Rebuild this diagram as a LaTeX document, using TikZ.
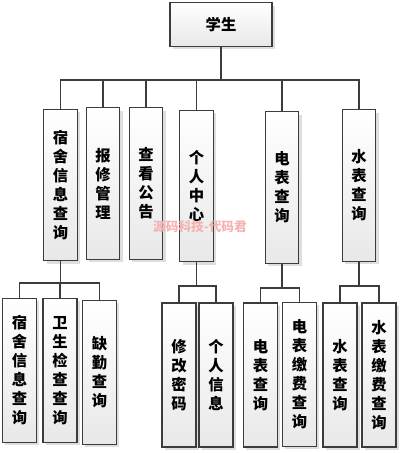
\documentclass[tikz,border=0pt]{standalone}
\usepackage{fontspec}
\usepackage{xcolor}
\usetikzlibrary{shadows,calc}
\newfontfamily\cjk{Noto Sans CJK SC}
\definecolor{linegray}{RGB}{60,60,60}
\definecolor{shadowgray}{RGB}{222,222,222}
\definecolor{markpink}{RGB}{244,178,178}

\tikzset{
	box/.style={draw=linegray, line width=0.9pt, top color=white, bottom color=black!9,
		inner sep=0pt, align=center, font={\cjk\bfseries\fontsize{11.5pt}{14.25pt}\selectfont},
		drop shadow={shadow xshift=2.2pt, shadow yshift=-2.2pt, fill=shadowgray, opacity=1}},
	rootbox/.style={box, minimum width=76.5pt, minimum height=32.5pt},
	midbox/.style={box, minimum width=25pt, minimum height=113.5pt},
	leafbox/.style={box, minimum width=25.5pt, minimum height=108pt},
	link/.style={draw=linegray, line width=0.9pt}
}

\begin{document}
\begin{tikzpicture}[x=0.75pt, y=-0.75pt]
				\useasboundingbox (0,0) rectangle (400,453);
				
				% Top node
				\node[rootbox] (student) at (221,24.5) {学生};
				
				% Second level
				\node[midbox] (dorm) at (60.5,185) {宿\\舍\\信\\息\\查\\询};
				\node[midbox] (repair) at (103,183.5) {报\\修\\管\\理};
				\node[midbox] (notice) at (146,183.5) {查\\看\\公\\告};
				\node[midbox] (center) at (196.5,186) {个\\人\\中\\心};
				\node[midbox] (elec) at (282,187.5) {电\\表\\查\\询};
				\node[midbox] (water) at (359,185.5) {水\\表\\查\\询};
				
				% Third level
				\node[leafbox] (dormq) at (19.5,370.5) {宿\\舍\\信\\息\\查\\询};
				\node[leafbox] (hygiene) at (60,370.5) {卫\\生\\检\\查\\查\\询};
				\node[leafbox] (absence) at (99.5,372.5) {缺\\勤\\查\\询};
				\node[leafbox] (passwd) at (179,375) {修\\改\\密\\码};
				\node[leafbox] (info) at (216,375) {个\\人\\信\\息};
				\node[leafbox] (elecq) at (260.5,375) {电\\表\\查\\询};
				\node[leafbox] (elecpay) at (299.5,374.5) {电\\表\\缴\\费\\查\\询};
				\node[leafbox] (waterq) at (340,375) {水\\表\\查\\询};
				\node[leafbox] (waterpay) at (379,375) {水\\表\\缴\\费\\查\\询};
				
				% Bus lines
				\coordinate (bus) at (0,80);
				\coordinate (busa) at (0,283);
				\coordinate (busd) at (0,286);
				\coordinate (buse) at (0,288);
				\coordinate (busf) at (0,286);
				
				% Connections
				\foreach \n in {dorm,repair,notice,center,elec,water}
					\draw[link] (student.south) -- (student.south |- bus) -| (\n.north);
				\foreach \n in {dormq,hygiene,absence}
					\draw[link] (dorm.south) -- (dorm.south |- busa) -| (\n.north);
				\foreach \n in {passwd,info}
					\draw[link] (center.south) -- (center.south |- busd) -| (\n.north);
				\foreach \n in {elecq,elecpay}
					\draw[link] (elec.south) -- (elec.south |- buse) -| (\n.north);
				\foreach \n in {waterq,waterpay}
					\draw[link] (water.south) -- (water.south |- busf) -| (\n.north);
				
				% Watermark
				\node[text=markpink, font={\cjk\bfseries\fontsize{9.5pt}{11pt}\selectfont}] (mark) at (200,227) {源码科技-代码君};
			\end{tikzpicture}
\end{document}
